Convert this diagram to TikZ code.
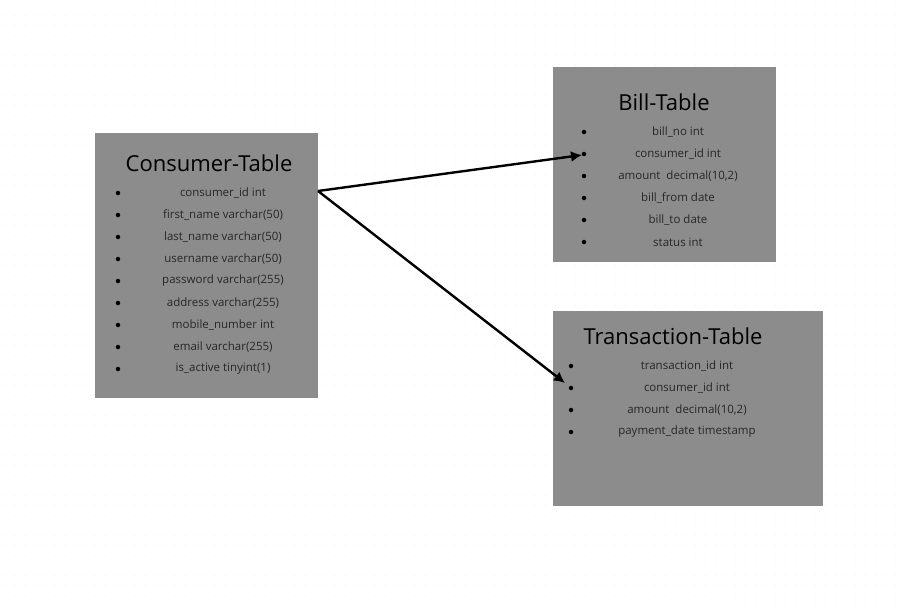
\documentclass[tikz,border=0pt]{standalone}
\usepackage{fontspec}
\setmainfont{Open Sans}
\usetikzlibrary{arrows.meta}
\begin{document}
\begin{tikzpicture}[x=1pt,y=-1pt,
  tbl/.style={fill=tgray,draw=none},
  ttl/.style={font=\fontsize{22}{24}\selectfont,text=black},
  itm/.style={font=\fontsize{11.5}{13}\selectfont,text=black!85},
  bul/.style={circle,fill=black,inner sep=0pt,minimum size=4.5pt},
  conn/.style={line width=2.4pt,-{Latex[length=11pt,width=11pt]}}]
\definecolor{tgray}{HTML}{8C8C8C}
\useasboundingbox (0,0) rectangle (898,608);
\foreach \i in {0,...,89}{\foreach \j in {0,...,60}{\fill[black!10] (\i*10+5,\j*10+5) circle (0.5);}}
% boxes
\fill[tbl] (95,133) rectangle (318,398);
\fill[tbl] (553,67) rectangle (776,262);
\fill[tbl] (553,311) rectangle (823,506);
\node[ttl] (ct) at (209,163) {Consumer-Table};
\node[ttl] (bt) at (664,102) {Bill-Table};
\node[ttl] (tt) at (673,336) {Transaction-Table};
\foreach \t [count=\k from 0] in {consumer\_id int,first\_name varchar(50),last\_name varchar(50),username varchar(50),password varchar(255),address varchar(255),mobile\_number int,email varchar(255),is\_active tinyint(1)}{
  \node[bul] (cb\k) at (118,193+22*\k) {};
  \node[itm] (ci\k) at (223,193+22*\k) {\t};}
\foreach \t [count=\k from 0] in {bill\_no int,consumer\_id int,amount~~decimal(10{,}2),bill\_from date,bill\_to date,status int}{
  \node[bul] (bb\k) at (584,132+22*\k) {};
  \node[itm] (bi\k) at (678,132+22*\k) {\t};}
\foreach \t [count=\k from 0] in {transaction\_id int,consumer\_id int,amount~~decimal(10{,}2),payment\_date timestamp}{
  \node[bul] (tb\k) at (571,366+22*\k) {};
  \node[itm] (ti\k) at (687,366+22*\k) {\t};}
\coordinate (src) at (318,191);
\coordinate (b1) at (582,155);
\coordinate (t1) at (565,383);
\draw[conn] (src) -- (b1);
\draw[conn] (src) -- (t1);
\end{tikzpicture}
\end{document}
